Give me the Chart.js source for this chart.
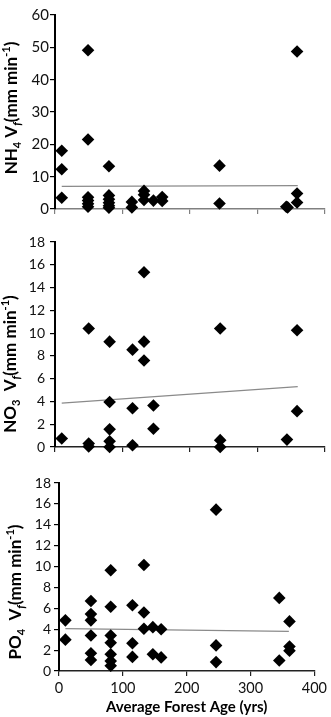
<!DOCTYPE html>
<html><head><meta charset="utf-8">
<script src="https://cdn.jsdelivr.net/npm/chart.js@4.4.1/dist/chart.umd.min.js"></script>
<style>
html,body{margin:0;padding:0;background:#fff;width:331px;height:717px;overflow:hidden;position:relative}
canvas{position:absolute;left:0}
</style></head><body>
<canvas id="c1" width="331" height="226" style="top:0px"></canvas>
<canvas id="c2" width="331" height="237" style="top:228px"></canvas>
<canvas id="c3" width="331" height="249" style="top:468px"></canvas>
<script>
// ---- data ----
const xTickLabels = ['0','100','200','300','400'];
const xTitle = 'Average Forest Age (yrs)';

const nh4Age = [10,10,10, 49,49,49,49,49,49, 80,80,80,80,80,80, 114,114, 132,132,132, 146, 159,159, 244,244, 343,345, 359,359,359];
const nh4Vf  = [18.0,12.3,3.5, 49.1,21.5,3.6,2.6,1.6,0.7, 13.2,4.2,3.0,1.9,1.0,0.4, 2.2,0.5, 5.6,4.4,2.8, 2.6, 3.7,2.5, 13.4,1.7, 0.7,0.5, 48.7,4.8,2.0];

const no3Age = [10, 50,50,50, 81,81,81,81,81, 115,115,115, 132,132,132, 146,146, 245,245,245, 344, 359,359];
const no3Vf  = [0.75, 10.4,0.3,0.05, 9.25,3.95,1.55,0.5,0.0, 8.55,3.4,0.15, 15.35,9.25,7.6, 3.65,1.6, 10.4,0.6,0.0, 0.65, 10.25,3.15];

const po4Age = [10,10, 50,50,50,50,50,50, 81,81,81,81,81,81,81, 115,115,115, 133,133,133, 147,147, 160,160, 246,246,246, 345,345, 361,361,361];
const po4Vf  = [4.85,3.0, 6.7,5.45,4.85,3.4,1.7,1.05, 9.65,6.15,3.4,2.7,1.6,0.95,0.5, 6.3,2.65,1.35, 10.15,5.6,4.05, 4.2,1.6, 4.0,1.3, 15.45,2.45,0.85, 7.0,1.0, 4.75,2.35,1.95];

const trendAge = [10, 360];
const nh4Trend = [7.0, 7.2];
const no3Trend = [3.85, 5.3];
const po4Trend = [4.05, 3.8];

const nh4Title = [{t:'NH'},{t:'4',s:'sub'},{t:' V'},{t:'f',s:'sub',i:true},{t:'(mm min'},{t:'-1',s:'sup'},{t:')'}];
const no3Title = [{t:'NO'},{t:'3',s:'sub'},{t:'  V'},{t:'f',s:'sub',i:true},{t:'(mm min'},{t:'-1',s:'sup'},{t:')'}];
const po4Title = [{t:'PO'},{t:'4',s:'sub'},{t:'  V'},{t:'f',s:'sub',i:true},{t:'(mm min'},{t:'-1',s:'sup'},{t:')'}];

// ---- rendering ----
const FONT = 'Lato, "Open Sans", sans-serif';

const richTitle = {
  id: 'richTitle',
  afterDraw(chart, args, o) {
    const ctx = chart.ctx, F = o.size;
    ctx.save();
    let total = 0;
    const ms = o.segs.map(s => {
      const sz = s.s ? F * 0.65 : F;
      const font = (s.i ? 'italic ' : '') + 'bold ' + sz + 'px ' + FONT;
      ctx.font = font;
      const w = ctx.measureText(s.t).width;
      total += w;
      return {font, w, t: s.t, off: s.s === 'sub' ? F * 0.22 : (s.s === 'sup' ? -F * 0.38 : 0)};
    });
    ctx.translate(o.x, o.cy);
    ctx.rotate(-Math.PI / 2);
    ctx.fillStyle = '#000';
    ctx.textBaseline = 'alphabetic';
    ctx.textAlign = 'left';
    let x = -total / 2;
    ms.forEach(m => { ctx.font = m.font; ctx.fillText(m.t, x, F * 0.35 + m.off); x += m.w; });
    ctx.restore();
  }
};

function pts(xs, ys) { return xs.map((x, i) => ({x: x, y: ys[i]})); }

function panel(id, ages, vals, trend, yMax, yStep, title, c) {
  return new Chart(document.getElementById(id), {
    type: 'scatter',
    data: {datasets: [
      {data: pts(trendAge, trend), showLine: true, borderColor: '#8a8a8a', borderWidth: 1.2, pointRadius: 0, order: 2, clip: false},
      {data: pts(ages, vals), pointStyle: 'rectRot', pointRadius: 6.3, backgroundColor: '#000', borderColor: '#000', borderWidth: 0, order: 1, clip: false}
    ]},
    options: {
      responsive: false, animation: false, events: [],
      layout: {padding: {top: c.top, right: c.right, left: 0, bottom: 0}},
      plugins: {legend: {display: false}, tooltip: {enabled: false},
        richTitle: {segs: title, size: c.tsize, x: c.tx, cy: c.tcy}},
      scales: {
        x: {type: 'linear', min: 0, max: 400,
          afterBuildTicks: s => { s.ticks = xTickLabels.map(v => ({value: +v})); },
          ticks: {padding: 4, color: '#111', font: {family: FONT, size: 14.5},
            callback: (v, i) => c.xlabels ? xTickLabels[i] : ''},
          grid: {display: true, drawOnChartArea: false, drawTicks: true, tickLength: 5, color: c.xcol, lineWidth: 1.2},
          border: {display: true, color: c.xcol, width: 1.5},
          title: {display: c.xlabels, text: xTitle, color: '#000', padding: {top: 0, bottom: 1},
            font: {family: FONT, size: 15, weight: 'bold'}},
          afterFit: s => { s.height = c.xh; }
        },
        y: {type: 'linear', min: 0, max: yMax,
          ticks: {stepSize: yStep, padding: c.ypad, color: '#111', font: {family: FONT, size: c.yfs}},
          grid: {display: true, drawOnChartArea: false, drawTicks: true, tickLength: 5, color: '#000', lineWidth: 1.2},
          border: {display: true, color: '#000', width: 2},
          afterFit: s => { s.width = c.left; }
        }
      }
    },
    plugins: [richTitle]
  });
}

panel('c1', nh4Age, nh4Vf, nh4Trend, 60, 10, nh4Title,
  {top: 15, right: 6, left: 55, xh: 17, xlabels: false, xcol: '#808080', ypad: 1, yfs: 15, tsize: 17, tx: 11, tcy: 108});
panel('c2', no3Age, no3Vf, no3Trend, 18, 2, no3Title,
  {top: 14, right: 1, left: 55, xh: 18, xlabels: false, xcol: '#222', ypad: 5, yfs: 14, tsize: 17, tx: 10, tcy: 136});
panel('c3', po4Age, po4Vf, po4Trend, 18, 2, po4Title,
  {top: 15, right: 13, left: 59, xh: 46, xlabels: true, xcol: '#222', ypad: 3, yfs: 14, tsize: 17, tx: 15, tcy: 124});
</script>
</body></html>
